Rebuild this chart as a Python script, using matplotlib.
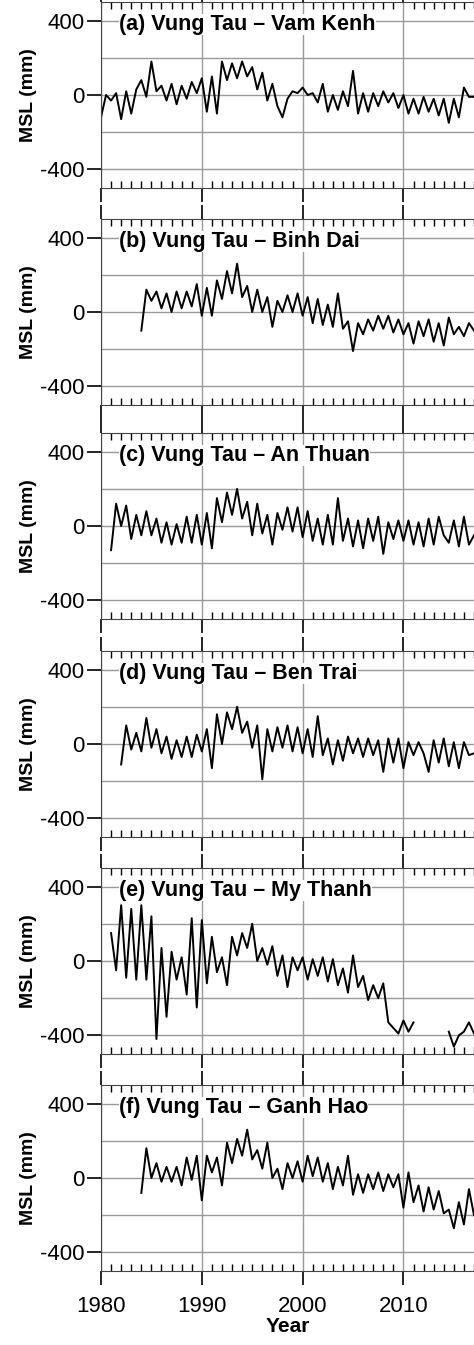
import numpy as np
import matplotlib
matplotlib.use("Agg")
import matplotlib.pyplot as plt
from matplotlib.ticker import MultipleLocator

plt.rcParams["font.family"] = ["Liberation Sans", "DejaVu Sans"]
plt.rcParams["axes.unicode_minus"] = False

# half-yearly MSL readings (mm) per station, first sample at given start year
titles = [
    "(a) Vung Tau \u2013 Vam Kenh",
    "(b) Vung Tau \u2013 Binh Dai",
    "(c) Vung Tau \u2013 An Thuan",
    "(d) Vung Tau \u2013 Ben Trai",
    "(e) Vung Tau \u2013 My Thanh",
    "(f) Vung Tau \u2013 Ganh Hao",
]
starts = [1980.0, 1984.0, 1981.0, 1982.0, 1981.0, 1984.0]

msl_a = [-120, 0, -30, 10, -130, 20, -100, 30, 80, -10, 180, 20, 50, -30, 60, -50,
         50, -20, 70, 10, 90, -90, 100, -100, 180, 80, 170, 90, 180, 100, 150, 30,
         120, -30, 60, -60, -120, -20, 20, 10, 40, 0, 10, -40, 60, -90, 0, -80,
         20, -60, 130, -100, 10, -90, 10, -60, 20, -40, 10, -70, 0, -100, -20, -100,
         -10, -90, -20, -110, -20, -150, -20, -120, 40, -10, -10]
msl_b = [-100, 120, 60, 110, 20, 100, 0, 110, 20, 110, 30, 150, -20, 130, -20, 170,
         70, 220, 100, 260, 80, 140, 0, 120, 0, 80, -80, 60, 0, 90, 0, 100,
         -20, 80, -60, 70, -70, 40, -80, 100, -90, -50, -210, -60, -120, -40, -100, -20,
         -90, -20, -110, -40, -120, -60, -170, -50, -130, -40, -160, -60, -180, -30,
         -120, -80, -130, -60, -100]
msl_c = [-130, 120, 0, 110, -70, 60, -50, 80, -50, 40, -90, 20, -100, 10, -90, 50,
         -90, 60, -100, 70, -120, 150, 20, 180, 60, 200, 40, 130, -50, 120, -40, 60,
         -100, 70, -20, 100, -30, 100, -60, 80, -80, 40, -100, 60, -100, 150, -80, 40,
         -110, 30, -120, 40, -80, 50, -150, 20, -70, 30, -80, 30, -100, 20, -110, 40,
         -100, 50, -50, -90, 30, -110, 50, -100, -50]
msl_d = [-110, 100, -30, 60, -40, 140, -20, 80, -50, 40, -80, 20, -70, 40, -70, 50,
         -40, 80, -130, 160, 0, 170, 80, 200, 60, 120, -20, 100, -190, 80, -40, 90,
         -20, 100, -40, 90, -50, 80, -70, 150, -60, 30, -110, 20, -90, 40, -50, 30,
         -70, 30, -60, 20, -150, 30, -100, 30, -130, 10, -60, 10, -50,
         -150, 20, -100, 30, -120, 10, -130, 10, -60, -50]
msl_e = [150, -50, 300, -90, 280, -100, 300, -100, 240, -420, 70, -300, 50, -100, 20, -180,
         230, -250, 220, -120, 130, -60, 20, -130, 130, 30, 150, 70, 200, 0, 70, -20,
         80, -80, 30, -140, 20, -50, 20, -100, 10, -80, 20, -110, 10, -130, -40, -170,
         30, -140, -80, -210, -130, -200, -120, -330, -360, -390, -320, -380, -330,
         np.nan, np.nan, np.nan, np.nan, np.nan, np.nan,
         -380, -460, -400, -380, -330, -390]
msl_f = [-80, 160, 0, 80, -20, 60, -20, 60, -40, 110, -10, 120, -120, 120, 30, 110,
         -40, 190, 80, 210, 120, 260, 100, 150, 50, 190, 0, 50, -60, 80, 0, 90,
         -20, 120, 10, 110, -20, 80, -60, 60, -40, 120, -90, 20, -80, 20, -60, 30,
         -70, 20, -50, 20, -160, 30, -130, -40, -180, -50, -170, -70, -190, -170,
         -270, -130, -250, -60, -200]
series = [msl_a, msl_b, msl_c, msl_d, msl_e, msl_f]

W, H = 474, 1345
fig = plt.figure(figsize=(W / 100, H / 100), dpi=100)
tops = [2, 219, 433, 651, 868, 1085]
ph = 186
for i, (title, start, vals) in enumerate(zip(titles, starts, series)):
    ax = fig.add_axes([101 / W, 1 - (tops[i] + ph) / H, 374 / W, ph / H])
    years = start + 0.5 * np.arange(len(vals))
    ax.plot(years, vals, color="black", lw=1.4)
    ax.set_xlim(1980, 2017.1)
    ax.set_ylim(-500, 500)
    ax.set_yticks([-400, 0, 400])
    ax.set_yticks([-200, 200], minor=True)
    ax.xaxis.set_major_locator(MultipleLocator(10))
    ax.xaxis.set_minor_locator(MultipleLocator(1))
    ax.grid(True, which="both", axis="y", color="#999999", lw=1)
    ax.grid(True, which="major", axis="x", color="#999999", lw=1)
    ax.tick_params(axis="y", which="major", direction="out", length=10, width=1.2,
                   labelsize=16, pad=2)
    ax.tick_params(axis="y", which="minor", length=0)
    ax.tick_params(axis="x", which="major", direction="out", length=10, width=1.2,
                   top=True, bottom=True, labelsize=16, pad=8)
    ax.tick_params(axis="x", which="minor", direction="in", length=5, width=1,
                   top=True, bottom=True)
    for s in ax.spines.values():
        s.set_color("#444444")
    if i < 5:
        ax.set_xticklabels([])
    else:
        ax.set_xlabel("Year", fontsize=15, fontweight="bold", labelpad=0)
    ax.set_ylabel("MSL (mm)", fontsize=14, fontweight="bold", labelpad=2)
    ax.text(1981.8, 380, title, fontsize=15.5, fontweight="bold", va="center",
            ha="left", bbox=dict(facecolor="white", edgecolor="none", pad=0))

fig.savefig("out.png", dpi=100)
